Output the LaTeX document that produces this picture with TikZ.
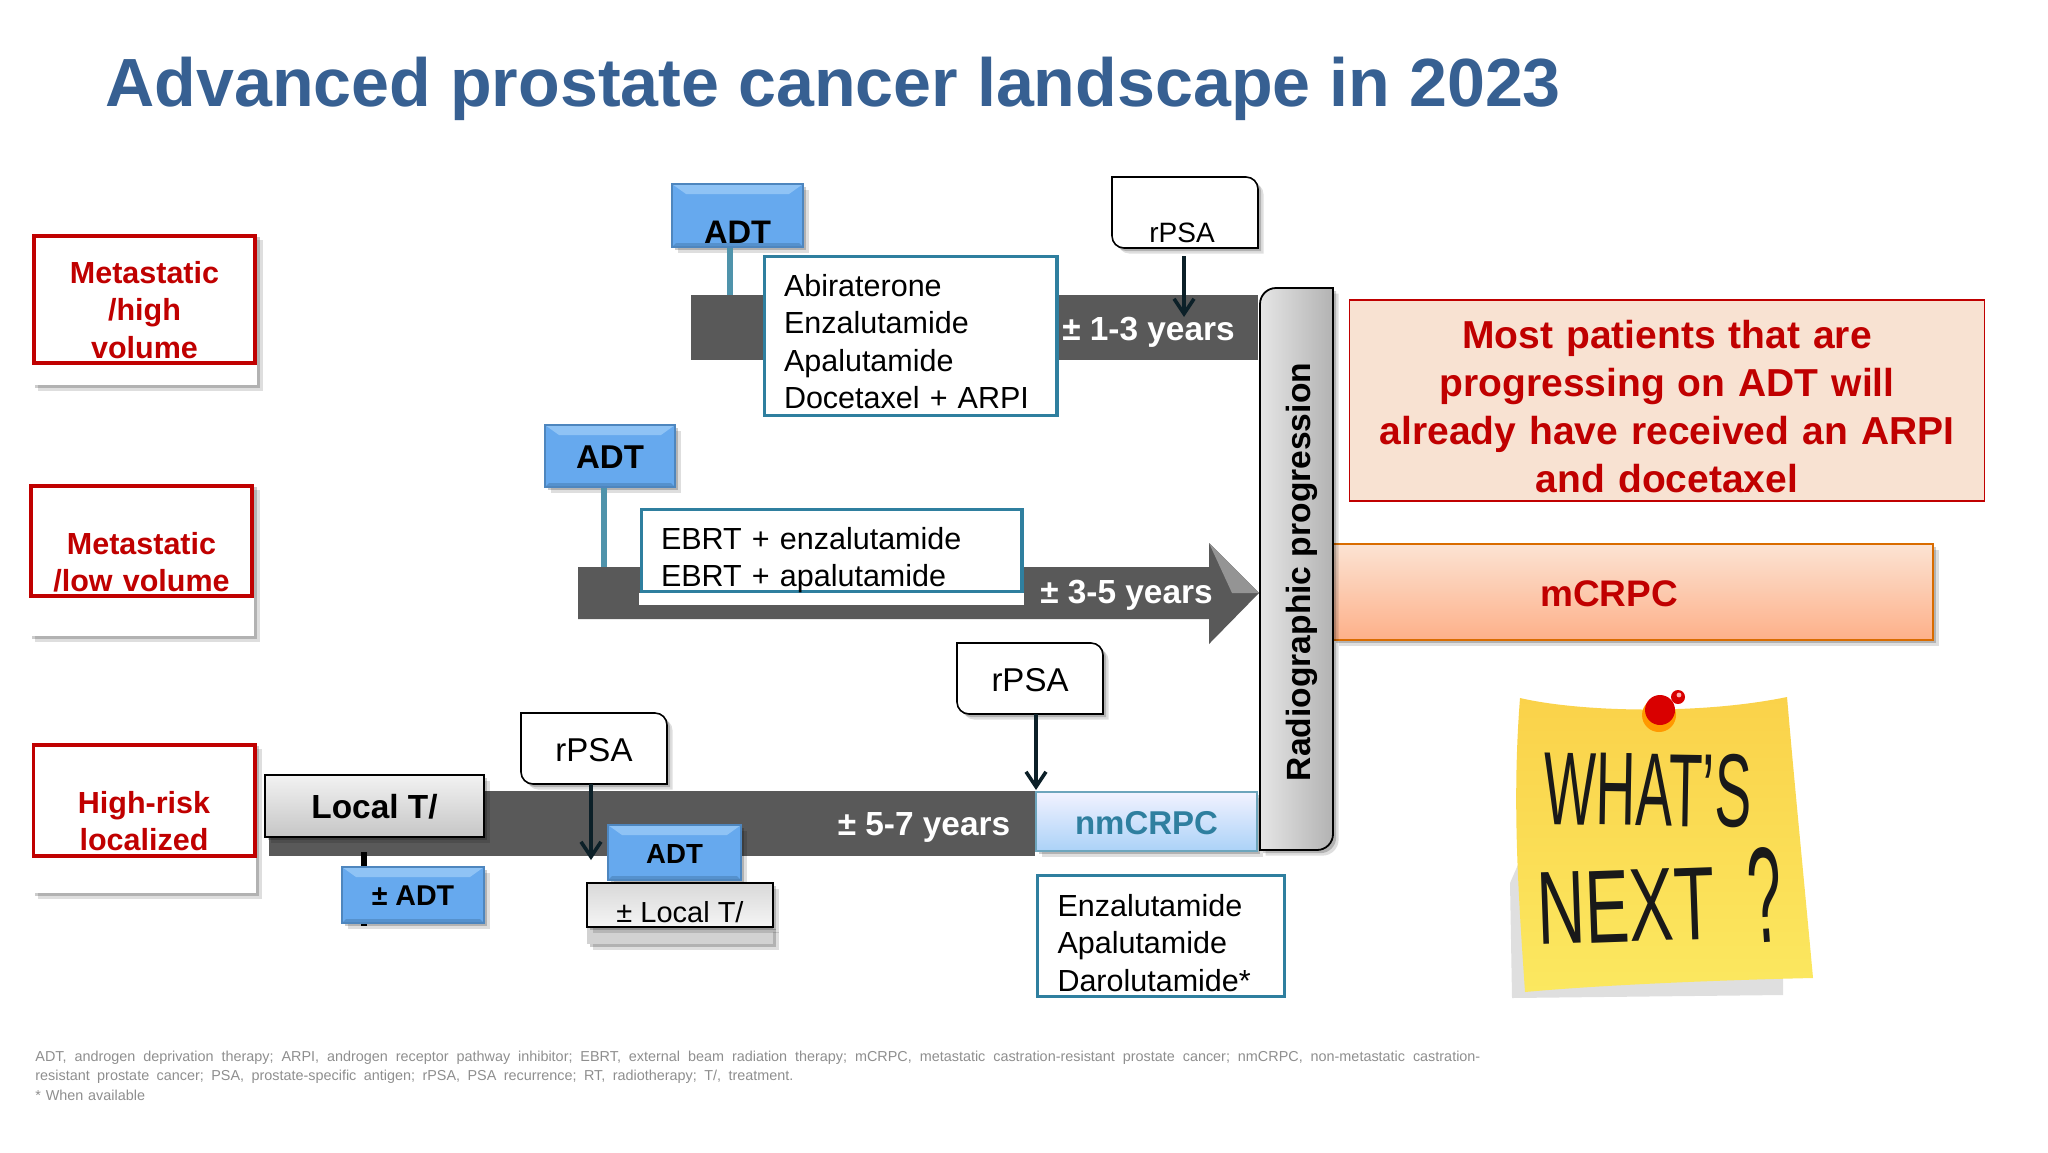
\documentclass[tikz,border=0pt]{standalone}
\usepackage{fontspec}
\setmainfont{Liberation Sans}
\usetikzlibrary{arrows.meta, calc, shadows}
\definecolor{titleblue}{HTML}{376092}
\definecolor{alertred}{HTML}{C00000}
\definecolor{drugteal}{HTML}{2F7F9F}
\definecolor{stickteal}{HTML}{4F93AB}
\definecolor{bargrey}{HTML}{595959}
\definecolor{adtblue}{HTML}{66A9EE}
\definecolor{adtlight}{HTML}{8FC3F5}
\definecolor{adtdark}{HTML}{4E86BE}
\definecolor{notefill}{HTML}{F8E2D2}
\definecolor{footgrey}{HTML}{8E8E8E}
\definecolor{mcrpctop}{HTML}{FCE3D3}
\definecolor{mcrpcbottom}{HTML}{FDB089}
\definecolor{stickytop}{HTML}{FAD24A}
\definecolor{stickybottom}{HTML}{FBE860}

\begin{document}
\begin{tikzpicture}[x=0.5pt,y=-0.5pt]
    \tikzset{softshadow/.style={
                drop shadow={shadow xshift=2.8pt,shadow yshift=-2.8pt,fill=black,opacity=.13},
                drop shadow={shadow xshift=1.6pt,shadow yshift=-1.6pt,fill=black,opacity=.2}},
             tb/.style={inner ysep=0pt,text depth=0pt,text height=#1},
             tbup/.style={inner ysep=0pt,text height=0pt,text depth=#1},
             panel/.style={fill=white,softshadow,inner sep=0pt},
             group/.style={draw=alertred,line width=1.8pt,text=alertred,align=center,
                text width=100pt,inner xsep=5.35pt,minimum height=#1,
                font=\bfseries\fontsize{15.25pt}{18.75pt}\selectfont},
             drug/.style={draw=drugteal,line width=1.7pt,fill=white,align=left,inner xsep=9.9pt,
                minimum height=#1,font=\fontsize{15.25pt}{18.75pt}\selectfont},
             adt/.style={draw=adtdark,line width=.6pt,fill=adtblue,softshadow,inner xsep=0pt,
                font=\bfseries\fontsize{#1}{20pt}\selectfont,
                path picture={
                    \coordinate (nw) at (path picture bounding box.north west);
                    \coordinate (ne) at (path picture bounding box.north east);
                    \coordinate (se) at (path picture bounding box.south east);
                    \coordinate (sw) at (path picture bounding box.south west);
                    \fill[adtlight] (nw) -- (ne) -- ($(ne)+(-7pt,-5pt)$) -- ($(nw)+(7pt,-5pt)$) -- cycle;
                    \fill[adtdark!70!adtblue] (sw) -- (se) -- ($(se)+(-2pt,2pt)$) -- ($(sw)+(2pt,2pt)$) -- cycle;}},
             localT/.style={draw=black,line width=1pt,top color=gray!10,bottom color=gray!45,
                softshadow,inner xsep=0pt},
             rpsa/.style={inner xsep=0pt,minimum width=73pt,minimum height=35.5pt,
                font=\fontsize{#1}{20pt}\selectfont},
             rpsaframe/.style={draw=black,line width=.8pt,fill=white,softshadow},
             years/.style={anchor=base,text=white,inner sep=0pt,font=\bfseries\fontsize{16.7pt}{20pt}\selectfont},
             barnode/.style={fill=bargrey,inner sep=0pt},
             stick/.style={draw=stickteal,line width=3pt},
             rpsaline/.style={draw=black!75!drugteal,line width=1.8pt,
                -{Straight Barb[length=7.5pt,width=10pt,line width=1.8pt]}},
             hand/.style={text=black!90,inner sep=0pt,transform shape}}

    \useasboundingbox (0,0) rectangle (2048,1152);

    \node[anchor=base west,inner sep=0pt,text=titleblue,font=\bfseries\fontsize{34.1pt}{40pt}\selectfont]
        (title) at (105,106) {Advanced prostate cancer landscape in 2023};

    \node[panel,minimum width=112.5pt,minimum height=75.5pt] (panelHigh) at (144.5,309.5) {};
    \node[panel,minimum width=112.5pt,minimum height=76pt] (panelLow) at (141.5,560) {};
    \node[panel,minimum width=112pt,minimum height=75pt] (panelRisk) at (144,818) {};
    \node[group=63.7pt,tbup=16.5pt] (high) at (144.5,299.5) {Metastatic\\/high\\volume};
    \node[group=55.2pt,tb=13pt] (low) at (141.5,541) {Metastatic\\/low volume};
    \node[group=55.7pt,tb=12.5pt] (risk) at (144,800.5) {High-risk\\localized};

    \node[barnode,minimum width=283.5pt,minimum height=32.5pt] (barA) at (974.5,327.5) {};
    \fill[bargrey] (578,567) -- (1209,567) -- (1209,543) -- (1259,593) -- (1209,644) -- (1209,619) -- (578,619) -- cycle;
    \fill[black!42] (1209,543) -- (1259,593) -- (1232,593) -- cycle;
    \node[barnode,minimum width=383pt,minimum height=32.5pt] (barC) at (652,823.5) {};

    \coordinate (tipA) at (730,295);
    \coordinate (tipB) at (604,567);
    \coordinate (stubTop) at (364,852);
    \coordinate (stubEnd) at (364,926);
    \draw[line width=2.6pt,draw=black] (stubTop) -- (stubEnd);

    \node[adt=16.3pt,minimum width=65.5pt,minimum height=31.5pt,tb=27.5pt] (adtA) at (737.5,215.5) {ADT};
    \node[adt=16.5pt,minimum width=65pt,minimum height=31pt,tb=12pt] (adtB) at (610,456) {ADT};
    \draw[stick] (adtA.south -| tipA) -- (tipA);
    \draw[stick] (adtB.south -| tipB) -- (tipB);

    \node[drug=79.3pt,text width=126.5pt,tbup=40pt] (drugA) at (910.5,336)
        {Abiraterone\\Enzalutamide\\Apalutamide\\Docetaxel + ARPI};
    \node[fill=white,inner sep=0pt,minimum width=192.5pt,minimum height=6pt] (gapB) at (831.5,599) {};
    \node[drug=40.8pt,text width=170.5pt,tbup=1.5pt] (drugB) at (831.5,550.5)
        {EBRT + enzalutamide\\EBRT + apalutamide};
    \node[drug=60.3pt,text width=103.5pt,tbup=20pt] (drugC) at (1161,936)
        {Enzalutamide\\Apalutamide\\Darolutamide*};

    \node[years] (yearsA) at (1148.5,340) {± 1-3 years};
    \node[years] (yearsB) at (1126.5,603) {± 3-5 years};
    \node[years] (yearsC) at (924,835) {± 5-7 years};

    \foreach \xa/\ya/\xb/\yb in {1112/177/1258/248, 957/643/1103/714, 521/713/667/784}
        \draw[rpsaframe] (\xa,\ya) [rounded corners=6pt] -- (\xb,\ya) [sharp corners] -- (\xb,\yb)
            [rounded corners=6pt] -- (\xa,\yb) [sharp corners] -- cycle;
    \node[rpsa=14pt,tb=29.5pt] (rpsaA) at (1185,212.5) {\hspace*{-3pt}rPSA};
    \node[rpsa=16.5pt,tb=12.5pt] (rpsaB) at (1030,678.5) {rPSA};
    \node[rpsa=16.5pt,tb=12.5pt] (rpsaC) at (594,748.5) {rPSA};

    \coordinate (endA) at (1184,317);
    \coordinate (endB) at (1036,790);
    \coordinate (endC) at (591,860);
    \draw[rpsaline,shorten <=4pt] (rpsaA.south -| endA) -- (endA);
    \draw[rpsaline] (rpsaB.south -| endB) -- (endB);
    \draw[rpsaline] (rpsaC.south -| endC) -- (endC);

    \node[localT,minimum width=109.5pt,minimum height=31pt,tb=12pt,
        font=\bfseries\fontsize{16.7pt}{20pt}\selectfont] (localA) at (374.5,806) {Local T/};
    \node[adt=14.3pt,minimum width=71pt,minimum height=28pt,tb=10pt] (adtD) at (413,895) {± ADT};
    \node[adt=13.8pt,minimum width=66.5pt,minimum height=27.5pt,tb=10.5pt] (adtC) at (674.5,852.5) {ADT};
    \node[panel,fill=gray!35,minimum width=93pt,minimum height=9pt] (panelLocal) at (680,935) {};
    \node[localT,top color=gray!30,bottom color=gray!8,line width=.9pt,minimum width=93pt,minimum height=22pt,tb=17pt,
        font=\fontsize{14.5pt}{18pt}\selectfont] (localB) at (680,905) {± Local T/};

    \node[draw=drugteal!70!white,line width=.8pt,top color=blue!5!white,bottom color=adtlight!75!white,
        softshadow,text=drugteal,inner xsep=0pt,minimum width=110.5pt,minimum height=29.5pt,tb=12.5pt,
        font=\bfseries\fontsize{16.5pt}{20pt}\selectfont] (nmcrpc) at (1146.5,821.5) {nmCRPC};

    \node[draw=orange!85!black,line width=.8pt,top color=mcrpctop,bottom color=mcrpcbottom,
        softshadow,text=alertred,inner xsep=0pt,minimum width=300pt,minimum height=48pt,tb=14pt,
        font=\bfseries\fontsize{18.5pt}{20pt}\selectfont] (mcrpc) at (1633,592) {\hspace*{-24pt}mCRPC};

    \draw[line width=.9pt,draw=black,left color=gray!20,right color=gray!60,softshadow]
        (1260,850) [rounded corners=8pt] -- (1260,288) [sharp corners] -- (1333,288)
        [rounded corners=8pt] -- (1333,850) [sharp corners] -- cycle;
    \node[anchor=base,rotate=90,inner sep=0pt,font=\bfseries\fontsize{16.8pt}{20pt}\selectfont]
        (radio) at (1310,572) {Radiographic progression};

    \node[draw=alertred,line width=.9pt,fill=notefill,text=alertred,align=center,text width=300pt,
        inner xsep=8.75pt,minimum height=100.5pt,tbup=52.5pt,
        font=\bfseries\fontsize{19.5pt}{24pt}\selectfont] (message) at (1667,400.5)
        {Most patients that are\\progressing on ADT will\\already have received an ARPI\\and docetaxel};

    \fill[gray!25] (1510,883) -- (1512,998) -- (1783,995) -- (1783,960) -- (1520,860) -- cycle;
    \shade[top color=stickytop,bottom color=stickybottom]
        (1520,698) .. controls (1580,712) and (1700,715) .. (1787,697)
        .. controls (1795,790) and (1805,890) .. (1813,978)
        .. controls (1720,980) and (1600,985) .. (1525,992)
        .. controls (1518,890) and (1512,800) .. (1520,698) -- cycle;
    \fill[orange!80!yellow] (1659,715) circle[radius=8.5pt];
    \fill[red!85!black] (1660,710) circle[radius=7.5pt];
    \fill[red!85!black] (1678,697) circle[radius=3.5pt];
    \fill[white!70!red] (1679,695) circle[radius=1.2pt];
    \node[hand,rotate=-1,xscale=.53,font=\fontsize{52pt}{56pt}\selectfont] (whats) at (1648,790) {WHAT'S};
    \node[hand,rotate=2,xscale=.64,font=\fontsize{52pt}{56pt}\selectfont] (next) at (1626,906) {NEXT};
    \node[hand,rotate=4,xscale=.45,font=\fontsize{68pt}{70pt}\selectfont] (ask) at (1765,895) {?};

    \node[anchor=north west,inner sep=0pt,text=footgrey,text width=722.5pt,
        font=\fontsize{7.2pt}{9.4pt}\selectfont] (abbrev) at (35,1050.5)
        {\frenchspacing\leavevmode\hbox to 722.5pt{\spaceskip=2pt plus 1pt ADT, androgen deprivation therapy; ARPI, androgen receptor pathway inhibitor; EBRT, external beam radiation therapy; mCRPC, metastatic castration-resistant prostate cancer; nmCRPC, non-metastatic castration-}\\
        \leavevmode\hbox to 379pt{\spaceskip=2pt plus 1pt resistant prostate cancer; PSA, prostate-specific antigen; rPSA, PSA recurrence; RT, radiotherapy; T/, treatment.}\\[1pt]
        * When available};
\end{tikzpicture}
\end{document}
